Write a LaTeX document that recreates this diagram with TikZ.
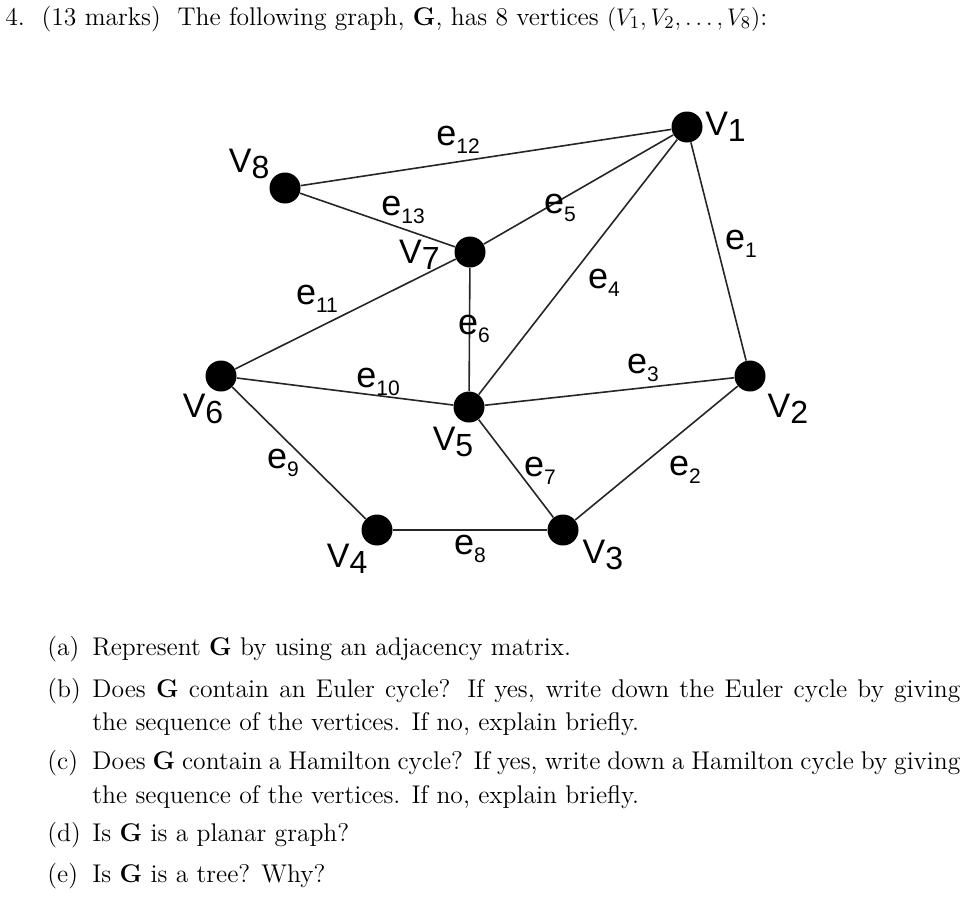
\documentclass[tikz,border=0pt]{standalone}
\usepackage{fontspec}
\usepackage{tikz}
\usetikzlibrary{positioning}
\newfontfamily\graphfont{Liberation Sans}
\newcommand{\vname}[1]{V\raisebox{-3pt}{\fontsize{16}{16}\selectfont #1}}
\newcommand{\ename}[1]{e\raisebox{-4pt}{\fontsize{10.5}{10}\selectfont #1}}
\tikzstyle{vertex} = [circle, fill=black, draw=none, inner sep=0pt, minimum size=15.5pt]
\tikzstyle{vlabel} = [inner sep=0pt, font=\graphfont\fontsize{17}{17}\selectfont]
\tikzstyle{elabel} = [inner sep=0pt, font=\graphfont\fontsize{18}{18}\selectfont]
\tikzstyle{gedge}  = [draw, line width=0.8pt, black!85]
\tikzstyle{textline} = [anchor=base west, inner sep=0pt, font=\fontsize{12.8}{15}\selectfont]

\begin{document}
\begin{tikzpicture}[x=0.5pt, y=-0.5pt]
\useasboundingbox (0,0) rectangle (965,896);

% question ===============================
\node[textline] (title) at (5,25) {4.\ \ (13 marks)\ \ The following graph, \textbf{G}, has 8 vertices $(V_1,V_2,\dots,V_8)$:};

% vertices ===============================
\node[vertex] (v1) at (687,127) {};
\node[vertex] (v2) at (750,376) {};
\node[vertex] (v3) at (563,530) {};
\node[vertex] (v4) at (377,530) {};
\node[vertex] (v5) at (469,407) {};
\node[vertex] (v6) at (221,376) {};
\node[vertex] (v7) at (470,252) {};
\node[vertex] (v8) at (285,188) {};

% vertex names
\node[vlabel, right=1pt of v1] (n1) {\vname{1}};
\node[vlabel, below right=3pt and 3pt of v2] (n2) {\vname{2}};
\node[vlabel, below right=-1pt and 4pt of v3] (n3) {\vname{3}};
\node[vlabel, below left=1pt and -1pt of v4] (n4) {\vname{4}};
\node[vlabel, below=2pt of v5, xshift=-8pt] (n5) {\vname{5}};
\node[vlabel, below=1pt of v6, xshift=-9pt] (n6) {\vname{6}};
\node[vlabel, left=7pt of v7, yshift=-1.5pt] (n7) {\vname{7}};
\node[vlabel, above left=-1pt and 2pt of v8] (n8) {\vname{8}};

% edges ==================================
\path[gedge] (v1) -- (v2);
\path[gedge] (v2) -- (v3);
\path[gedge] (v2) -- (v5);
\path[gedge] (v1) -- (v5);
\path[gedge] (v1) -- (v7);
\path[gedge] (v7) -- (v5);
\path[gedge] (v5) -- (v3);
\path[gedge] (v4) -- (v3);
\path[gedge] (v6) -- (v4);
\path[gedge] (v6) -- (v5);
\path[gedge] (v6) -- (v7);
\path[gedge] (v8) -- (v1);
\path[gedge] (v8) -- (v7);

% edge names
\node[elabel] (e1) at (741,244) {\ename{1}};
\node[elabel] (e2) at (685,470) {\ename{2}};
\node[elabel] (e3) at (643,368) {\ename{3}};
\node[elabel] (e4) at (604,283) {\ename{4}};
\node[elabel] (e5) at (560,208) {\ename{5}};
\node[elabel] (e6) at (474,329) {\ename{6}};
\node[elabel] (e7) at (540,471) {\ename{7}};
\node[elabel] (e8) at (470,549) {\ename{8}};
\node[elabel] (e9) at (283,463) {\ename{9}};
\node[elabel] (e10) at (378,382) {\ename{10}};
\node[elabel] (e11) at (317,299) {\ename{11}};
\node[elabel] (e12) at (458,140) {\ename{12}};
\node[elabel] (e13) at (403,210) {\ename{13}};

% parts ==================================
\node[textline] (qa) at (47,655) {(a)};
\node[textline] (ta) at (92,655) {Represent \textbf{G} by using an adjacency matrix.};
\node[textline] (qb) at (47,697) {(b)};
\node[textline] (tb) at (92,697) {\makebox[434pt][s]{Does \textbf{G} contain an Euler cycle? If yes, write down the Euler cycle by giving}};
\node[textline] (tb2) at (92,730) {the sequence of the vertices. If no, explain briefly.};
\node[textline] (qc) at (47,769) {(c)};
\node[textline] (tc) at (92,769) {\makebox[434pt][s]{Does \textbf{G} contain a Hamilton cycle? If yes, write down a Hamilton cycle by giving}};
\node[textline] (tc2) at (92,803) {the sequence of the vertices. If no, explain briefly.};
\node[textline] (qd) at (47,841) {(d)};
\node[textline] (td) at (92,841) {Is \textbf{G} is a planar graph?};
\node[textline] (qe) at (47,882) {(e)};
\node[textline] (te) at (92,882) {Is \textbf{G} is a tree? Why?};

\end{tikzpicture}
\end{document}
